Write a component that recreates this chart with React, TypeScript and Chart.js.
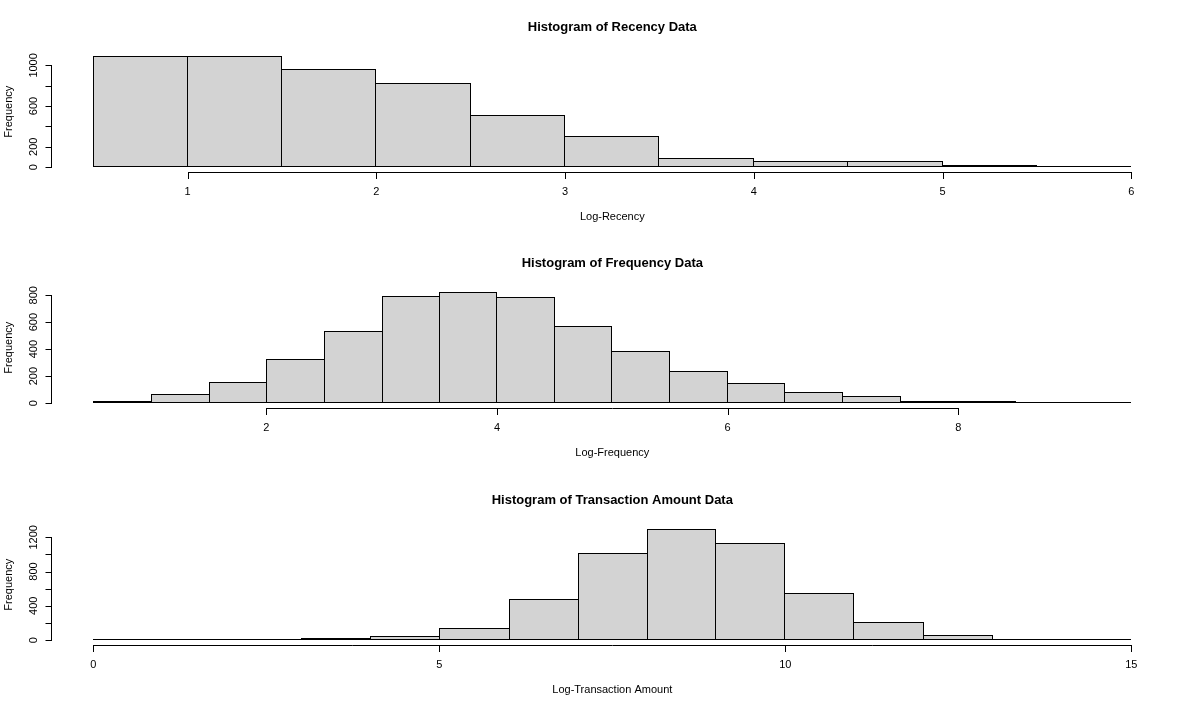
import React, { useEffect, useRef } from "react";
import { Chart, registerables } from "chart.js";

Chart.register(...registerables);

// ---------- Data ----------
const recencyBreaks = [0.5, 1, 1.5, 2, 2.5, 3, 3.5, 4, 4.5, 5, 5.5, 6];
const recencyCounts = [1090, 1090, 960, 823, 508, 302, 89, 56, 56, 22, 15];
const recencyXTicks = [1, 2, 3, 4, 5, 6];
const recencyYTicks = [0, 200, 400, 600, 800, 1000];
const recencyYLabels = ["0", "200", "", "600", "", "1000"];

const frequencyBreaks = [0.5, 1, 1.5, 2, 2.5, 3, 3.5, 4, 4.5, 5, 5.5, 6, 6.5, 7, 7.5, 8, 8.5, 9, 9.5];
const frequencyCounts = [15, 67, 156, 327, 535, 795, 822, 790, 572, 386, 238, 149, 82, 52, 17, 12, 0, 0];
const frequencyXTicks = [2, 4, 6, 8];
const frequencyYTicks = [0, 200, 400, 600, 800];
const frequencyYLabels = ["0", "200", "400", "600", "800"];

const amountBreaks = [0, 1, 2, 3, 4, 5, 6, 7, 8, 9, 10, 11, 12, 13, 14, 15];
const amountCounts = [0, 0, 0, 24, 47, 141, 482, 1012, 1294, 1129, 553, 212, 63, 0, 0];
const amountXTicks = [0, 5, 10, 15];
const amountYTicks = [0, 200, 400, 600, 800, 1000, 1200];
const amountYLabels = ["0", "", "400", "", "800", "", "1200"];

const titles = ["Histogram of Recency Data", "Histogram of Frequency Data", "Histogram of Transaction Amount Data"];
const xLabels = ["Log-Recency", "Log-Frequency", "Log-Transaction Amount"];
const yLabel = "Frequency";

// ---------- Layout ----------
const WIDTH = 1200;
const PANEL_HEIGHTS = [236, 237, 236];
const FONT = '"Liberation Sans", Arial, Helvetica, sans-serif';

type PanelProps = {
  height: number;
  title: string;
  xlab: string;
  breaks: number[];
  counts: number[];
  xTicks: number[];
  yTicks: number[];
  yLabels: string[];
};

// Snap bar / baseline elements to whole pixels so 1px borders stay crisp
const pixelSnap = {
  id: "pixelSnap",
  beforeDatasetsDraw(chart: any) {
    chart.data.datasets.forEach((_: any, di: number) => {
      const meta = chart.getDatasetMeta(di);
      if (meta.type === "bar") {
        meta.data.forEach((el: any) => {
          const l = Math.round(el.x - el.width / 2);
          const r = Math.round(el.x + el.width / 2);
          el.x = (l + r) / 2;
          el.width = r - l;
          el.y = Math.round(el.y);
          el.base = Math.round(el.base);
        });
      } else if (meta.type === "line") {
        meta.data.forEach((pt: any) => {
          pt.x = Math.round(pt.x);
          pt.y = Math.round(pt.y) - 0.5;
        });
      }
    });
  },
};

function Histogram(props: PanelProps) {
  const ref = useRef<HTMLCanvasElement | null>(null);

  useEffect(() => {
    const canvas = ref.current;
    if (!canvas) return;
    const { height, title, xlab, breaks, counts, xTicks, yTicks, yLabels } = props;
    const n = counts.length;
    const centers = counts.map((_, i) => (breaks[i] + breaks[i + 1]) / 2);
    const x0 = breaks[0];
    const x1 = breaks[breaks.length - 1];
    const xr = x1 - x0;
    const ymax = Math.max(...counts);

    const rAxes = {
      id: "rAxes",
      afterDraw(chart: any) {
        const { ctx, chartArea: a, scales } = chart;
        const xs = scales.x;
        const ys = scales.y;
        ctx.save();
        ctx.strokeStyle = "#000";
        ctx.fillStyle = "#000";
        ctx.lineWidth = 1;

        // x axis
        const xb = Math.round(a.bottom) + 0.5;
        ctx.beginPath();
        ctx.moveTo(Math.round(xs.getPixelForValue(xTicks[0])), xb);
        ctx.lineTo(Math.round(xs.getPixelForValue(xTicks[xTicks.length - 1])) + 1, xb);
        xTicks.forEach((t) => {
          const px = Math.round(xs.getPixelForValue(t)) + 0.5;
          ctx.moveTo(px, xb);
          ctx.lineTo(px, xb + 6.5);
        });
        ctx.stroke();
        ctx.font = `11px ${FONT}`;
        ctx.textAlign = "center";
        ctx.textBaseline = "alphabetic";
        xTicks.forEach((t) => {
          ctx.fillText(String(t), xs.getPixelForValue(t), a.bottom + 23.5);
        });

        // y axis
        const yl = Math.round(a.left) - 0.5;
        ctx.beginPath();
        ctx.moveTo(yl, Math.round(ys.getPixelForValue(yTicks[0])) + 1);
        ctx.lineTo(yl, Math.round(ys.getPixelForValue(yTicks[yTicks.length - 1])));
        yTicks.forEach((t) => {
          const py = Math.round(ys.getPixelForValue(t)) + 0.5;
          ctx.moveTo(yl + 0.5, py);
          ctx.lineTo(yl - 6, py);
        });
        ctx.stroke();
        yTicks.forEach((t, i) => {
          const lab = yLabels[i];
          if (!lab) return;
          ctx.save();
          ctx.translate(a.left - 14.5, ys.getPixelForValue(t));
          ctx.rotate(-Math.PI / 2);
          ctx.fillText(lab, 0, 0);
          ctx.restore();
        });

        // axis titles
        const cx = (a.left + a.right) / 2;
        ctx.fillText(xlab, cx, a.bottom + 48);
        ctx.save();
        ctx.translate(12, (a.top + a.bottom) / 2);
        ctx.rotate(-Math.PI / 2);
        ctx.fillText(yLabel, 0, 0);
        ctx.restore();

        // main title
        ctx.font = `bold 13px ${FONT}`;
        ctx.fillText(title, cx, 31);
        ctx.restore();
      },
    };

    const chart = new Chart(canvas, {
      type: "bar",
      data: {
        datasets: [
          {
            type: "bar",
            data: centers.map((c, i) => ({ x: c, y: counts[i] })),
            backgroundColor: "#D3D3D3",
            borderColor: "#000000",
            borderSkipped: false,
            inflateAmount: 0,
            borderWidth: (c: any) => {
              const i = c.dataIndex;
              const v = counts[i];
              const prev = i > 0 ? counts[i - 1] : -1;
              const next = i < n - 1 ? counts[i + 1] : -1;
              return { top: 1, bottom: 1, left: prev < v ? 1 : 0, right: next <= v ? 1 : 0 };
            },
            barPercentage: 1,
            categoryPercentage: 1,
          } as any,
          {
            type: "line",
            data: [
              { x: x0, y: 0 },
              { x: x1, y: 0 },
            ],
            borderColor: "#000000",
            borderWidth: 1,
            pointRadius: 0,
            fill: false,
          } as any,
        ],
      },
      options: {
        responsive: false,
        animation: false,
        events: [],
        layout: {
          padding: { left: 51.8, right: WIDTH - 1172.8, top: 51.8, bottom: height - 171.5 },
        },
        plugins: {
          legend: { display: false },
          tooltip: { enabled: false },
          title: { display: false },
        },
        scales: {
          x: {
            type: "linear",
            display: false,
            offset: false,
            min: x0 - 0.04 * xr,
            max: x1 + 0.04 * xr,
            afterBuildTicks: (s: any) => {
              s.ticks = breaks.map((v) => ({ value: v }));
            },
          },
          y: {
            type: "linear",
            display: false,
            min: -0.04 * ymax,
            max: 1.04 * ymax,
          },
        },
      },
      plugins: [pixelSnap as any, rAxes as any],
    });

    return () => chart.destroy();
  }, []);

  return (
    <canvas
      ref={ref}
      width={WIDTH}
      height={props.height}
      style={{ display: "block", width: WIDTH, height: props.height }}
    />
  );
}

export default function App() {
  return (
    <div style={{ position: "absolute", left: 0, top: 0, width: WIDTH, height: 709, background: "#fff" }}>
      <Histogram
        height={PANEL_HEIGHTS[0]}
        title={titles[0]}
        xlab={xLabels[0]}
        breaks={recencyBreaks}
        counts={recencyCounts}
        xTicks={recencyXTicks}
        yTicks={recencyYTicks}
        yLabels={recencyYLabels}
      />
      <Histogram
        height={PANEL_HEIGHTS[1]}
        title={titles[1]}
        xlab={xLabels[1]}
        breaks={frequencyBreaks}
        counts={frequencyCounts}
        xTicks={frequencyXTicks}
        yTicks={frequencyYTicks}
        yLabels={frequencyYLabels}
      />
      <Histogram
        height={PANEL_HEIGHTS[2]}
        title={titles[2]}
        xlab={xLabels[2]}
        breaks={amountBreaks}
        counts={amountCounts}
        xTicks={amountXTicks}
        yTicks={amountYTicks}
        yLabels={amountYLabels}
      />
    </div>
  );
}
